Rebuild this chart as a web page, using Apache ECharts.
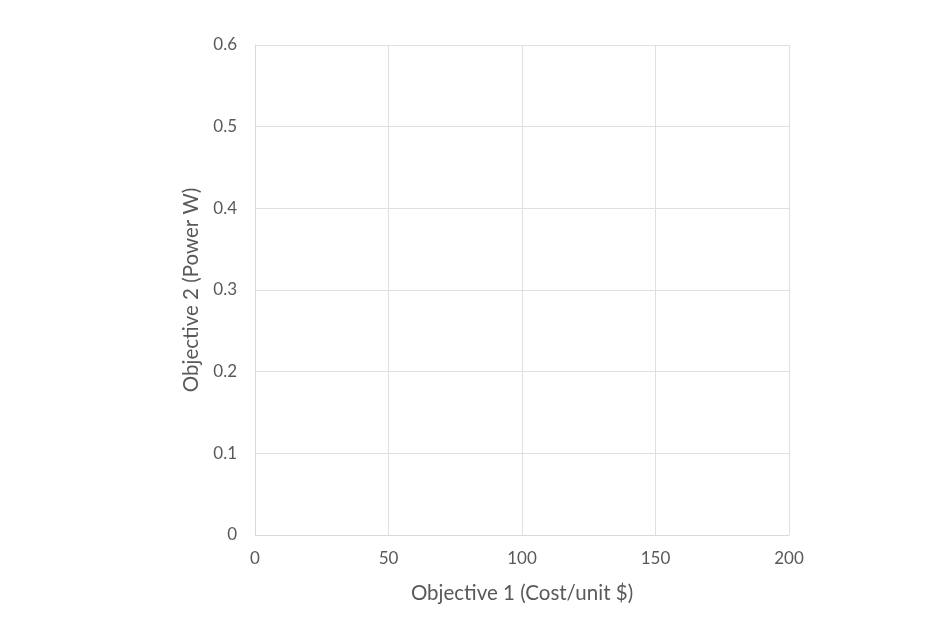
<!DOCTYPE html>
<html>
<head>
<meta charset="utf-8">
<script src="https://cdn.jsdelivr.net/npm/echarts@6/dist/echarts.min.js"></script>
<style>html,body{margin:0;padding:0;background:#fff;}#c{width:946px;height:642px;}</style>
</head>
<body>
<div id="c"></div>
<script>
// Data: the reference chart shows no plotted points
const costValues = [];
const powerValues = [];
const xTicks = [0, 50, 100, 150, 200];
const yTicks = [0, 0.1, 0.2, 0.3, 0.4, 0.5, 0.6];
const xTitle = 'Objective 1 (Cost/unit $)';
const yTitle = 'Objective 2 (Power W)';

const points = costValues.map((c, i) => [c, powerValues[i]]);
const font = 'Lato, "Open Sans", sans-serif';
const chart = echarts.init(document.getElementById('c'), null, {renderer: 'canvas'});
chart.setOption({
  animation: false,
  backgroundColor: '#ffffff',
  grid: {left: 255, right: 157, top: 45, bottom: 107, containLabel: false},
  xAxis: {
    type: 'value', min: xTicks[0], max: xTicks[xTicks.length - 1], interval: 50,
    name: xTitle, nameLocation: 'middle', nameGap: 48,
    nameTextStyle: {color: '#595959', fontSize: 20.5, fontFamily: font},
    axisLine: {show: true, lineStyle: {color: '#d9d9d9', width: 1}},
    axisTick: {show: false},
    axisLabel: {color: '#595959', fontSize: 17, fontFamily: font, margin: 15},
    splitLine: {show: true, lineStyle: {color: '#e0e0e0', width: 1}}
  },
  yAxis: {
    type: 'value', min: yTicks[0], max: yTicks[yTicks.length - 1], interval: 0.1,
    name: yTitle, nameLocation: 'middle', nameGap: 47, nameRotate: 90,
    nameTextStyle: {color: '#595959', fontSize: 20.5, fontFamily: font},
    axisLine: {show: true, lineStyle: {color: '#d9d9d9', width: 1}},
    axisTick: {show: false},
    axisLabel: {color: '#595959', fontSize: 17, fontFamily: font, margin: 18},
    splitLine: {show: true, lineStyle: {color: '#e0e0e0', width: 1}}
  },
  series: [{type: 'scatter', data: points, symbolSize: 7, itemStyle: {color: '#4472c4'}}]
});
</script>
</body>
</html>
